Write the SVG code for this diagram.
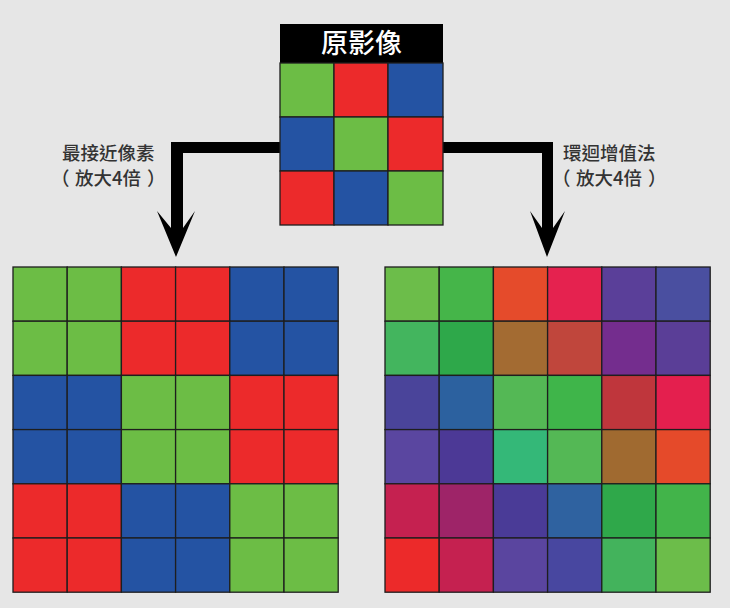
<svg xmlns="http://www.w3.org/2000/svg" width="730" height="608" viewBox="0 0 730 608">
<style>
.g{fill:#6cbd45}.r{fill:#ec2a2b}.b{fill:#2453a3}
.cell{stroke:#1e1e1e;stroke-width:1.3}
.lbl{font-family:"Noto Sans CJK TC","Noto Sans CJK SC",sans-serif;font-size:18.5px;font-weight:500;fill:#333}
.title{font-family:"Noto Sans CJK TC","Noto Sans CJK SC",sans-serif;font-size:27px;font-weight:500;fill:#fff}
</style>
<rect width="730" height="608" fill="#e6e6e6"/>

<g id="connectors" fill="#000">
  <path d="M280 142 H171 V228 L157 211 L176 257 L195 211 L183 228 V153 H280 Z"/>
  <path d="M443 142 H553 V228 L565 211 L547 257 L530 211 L542 228 V153 H443 Z"/>
</g>

<g id="original">
  <rect x="280" y="24" width="163" height="39" fill="#000"/>
  <text class="title" x="361.5" y="53" text-anchor="middle">原影像</text>
  <g class="cell">
    <rect class="g" x="280" y="63" width="54" height="54"/>
    <rect class="r" x="334" y="63" width="54" height="54"/>
    <rect class="b" x="388" y="63" width="55" height="54"/>
    <rect class="b" x="280" y="117" width="54" height="54"/>
    <rect class="g" x="334" y="117" width="54" height="54"/>
    <rect class="r" x="388" y="117" width="55" height="54"/>
    <rect class="r" x="280" y="171" width="54" height="54"/>
    <rect class="b" x="334" y="171" width="54" height="54"/>
    <rect class="g" x="388" y="171" width="55" height="54"/>
  </g>
</g>

<g id="label-left">
  <text class="lbl" x="62" y="160">最接近像素</text>
  <text class="lbl" y="185"><tspan x="51">（</tspan><tspan x="75">放大4倍</tspan><tspan x="147">）</tspan></text>
</g>
<g id="label-right">
  <text class="lbl" x="563" y="160">環迴增值法</text>
  <text class="lbl" y="185"><tspan x="552">（</tspan><tspan x="576">放大4倍</tspan><tspan x="648">）</tspan></text>
</g>

<g id="nearest" class="cell">
  <rect class="g" x="13" y="267" width="54.2" height="54.2"/>
  <rect class="g" x="67.2" y="267" width="54.2" height="54.2"/>
  <rect class="r" x="121.4" y="267" width="54.2" height="54.2"/>
  <rect class="r" x="175.6" y="267" width="54.2" height="54.2"/>
  <rect class="b" x="229.8" y="267" width="54.2" height="54.2"/>
  <rect class="b" x="284" y="267" width="54.2" height="54.2"/>
  <rect class="g" x="13" y="321.2" width="54.2" height="54.2"/>
  <rect class="g" x="67.2" y="321.2" width="54.2" height="54.2"/>
  <rect class="r" x="121.4" y="321.2" width="54.2" height="54.2"/>
  <rect class="r" x="175.6" y="321.2" width="54.2" height="54.2"/>
  <rect class="b" x="229.8" y="321.2" width="54.2" height="54.2"/>
  <rect class="b" x="284" y="321.2" width="54.2" height="54.2"/>
  <rect class="b" x="13" y="375.4" width="54.2" height="54.2"/>
  <rect class="b" x="67.2" y="375.4" width="54.2" height="54.2"/>
  <rect class="g" x="121.4" y="375.4" width="54.2" height="54.2"/>
  <rect class="g" x="175.6" y="375.4" width="54.2" height="54.2"/>
  <rect class="r" x="229.8" y="375.4" width="54.2" height="54.2"/>
  <rect class="r" x="284" y="375.4" width="54.2" height="54.2"/>
  <rect class="b" x="13" y="429.6" width="54.2" height="54.2"/>
  <rect class="b" x="67.2" y="429.6" width="54.2" height="54.2"/>
  <rect class="g" x="121.4" y="429.6" width="54.2" height="54.2"/>
  <rect class="g" x="175.6" y="429.6" width="54.2" height="54.2"/>
  <rect class="r" x="229.8" y="429.6" width="54.2" height="54.2"/>
  <rect class="r" x="284" y="429.6" width="54.2" height="54.2"/>
  <rect class="r" x="13" y="483.8" width="54.2" height="54.2"/>
  <rect class="r" x="67.2" y="483.8" width="54.2" height="54.2"/>
  <rect class="b" x="121.4" y="483.8" width="54.2" height="54.2"/>
  <rect class="b" x="175.6" y="483.8" width="54.2" height="54.2"/>
  <rect class="g" x="229.8" y="483.8" width="54.2" height="54.2"/>
  <rect class="g" x="284" y="483.8" width="54.2" height="54.2"/>
  <rect class="r" x="13" y="538" width="54.2" height="54.2"/>
  <rect class="r" x="67.2" y="538" width="54.2" height="54.2"/>
  <rect class="b" x="121.4" y="538" width="54.2" height="54.2"/>
  <rect class="b" x="175.6" y="538" width="54.2" height="54.2"/>
  <rect class="g" x="229.8" y="538" width="54.2" height="54.2"/>
  <rect class="g" x="284" y="538" width="54.2" height="54.2"/>
</g>

<g id="bilinear" class="cell">
  <rect fill="#6cbd4a" x="385" y="267" width="54.2" height="54.2"/>
  <rect fill="#45b549" x="439.2" y="267" width="54.2" height="54.2"/>
  <rect fill="#e54b2b" x="493.4" y="267" width="54.2" height="54.2"/>
  <rect fill="#e5224f" x="547.6" y="267" width="54.2" height="54.2"/>
  <rect fill="#5a3f99" x="601.8" y="267" width="54.2" height="54.2"/>
  <rect fill="#4a4fa0" x="656" y="267" width="54.2" height="54.2"/>
  <rect fill="#43b55e" x="385" y="321.2" width="54.2" height="54.2"/>
  <rect fill="#2ea84a" x="439.2" y="321.2" width="54.2" height="54.2"/>
  <rect fill="#a36b32" x="493.4" y="321.2" width="54.2" height="54.2"/>
  <rect fill="#c0463c" x="547.6" y="321.2" width="54.2" height="54.2"/>
  <rect fill="#742d8e" x="601.8" y="321.2" width="54.2" height="54.2"/>
  <rect fill="#5a3e97" x="656" y="321.2" width="54.2" height="54.2"/>
  <rect fill="#4a449a" x="385" y="375.4" width="54.2" height="54.2"/>
  <rect fill="#2c619f" x="439.2" y="375.4" width="54.2" height="54.2"/>
  <rect fill="#54b855" x="493.4" y="375.4" width="54.2" height="54.2"/>
  <rect fill="#3fb54a" x="547.6" y="375.4" width="54.2" height="54.2"/>
  <rect fill="#bf363c" x="601.8" y="375.4" width="54.2" height="54.2"/>
  <rect fill="#e41f4e" x="656" y="375.4" width="54.2" height="54.2"/>
  <rect fill="#5a46a0" x="385" y="429.6" width="54.2" height="54.2"/>
  <rect fill="#4c3996" x="439.2" y="429.6" width="54.2" height="54.2"/>
  <rect fill="#34b878" x="493.4" y="429.6" width="54.2" height="54.2"/>
  <rect fill="#54b855" x="547.6" y="429.6" width="54.2" height="54.2"/>
  <rect fill="#a06a30" x="601.8" y="429.6" width="54.2" height="54.2"/>
  <rect fill="#e54a2a" x="656" y="429.6" width="54.2" height="54.2"/>
  <rect fill="#c52150" x="385" y="483.8" width="54.2" height="54.2"/>
  <rect fill="#9e2468" x="439.2" y="483.8" width="54.2" height="54.2"/>
  <rect fill="#4a3b97" x="493.4" y="483.8" width="54.2" height="54.2"/>
  <rect fill="#2f62a0" x="547.6" y="483.8" width="54.2" height="54.2"/>
  <rect fill="#2fa84a" x="601.8" y="483.8" width="54.2" height="54.2"/>
  <rect fill="#42b44a" x="656" y="483.8" width="54.2" height="54.2"/>
  <rect fill="#ec2a2a" x="385" y="538" width="54.2" height="54.2"/>
  <rect fill="#c52150" x="439.2" y="538" width="54.2" height="54.2"/>
  <rect fill="#5a459f" x="493.4" y="538" width="54.2" height="54.2"/>
  <rect fill="#4847a0" x="547.6" y="538" width="54.2" height="54.2"/>
  <rect fill="#43b35c" x="601.8" y="538" width="54.2" height="54.2"/>
  <rect fill="#6cbd4a" x="656" y="538" width="54.2" height="54.2"/>
</g>
</svg>
